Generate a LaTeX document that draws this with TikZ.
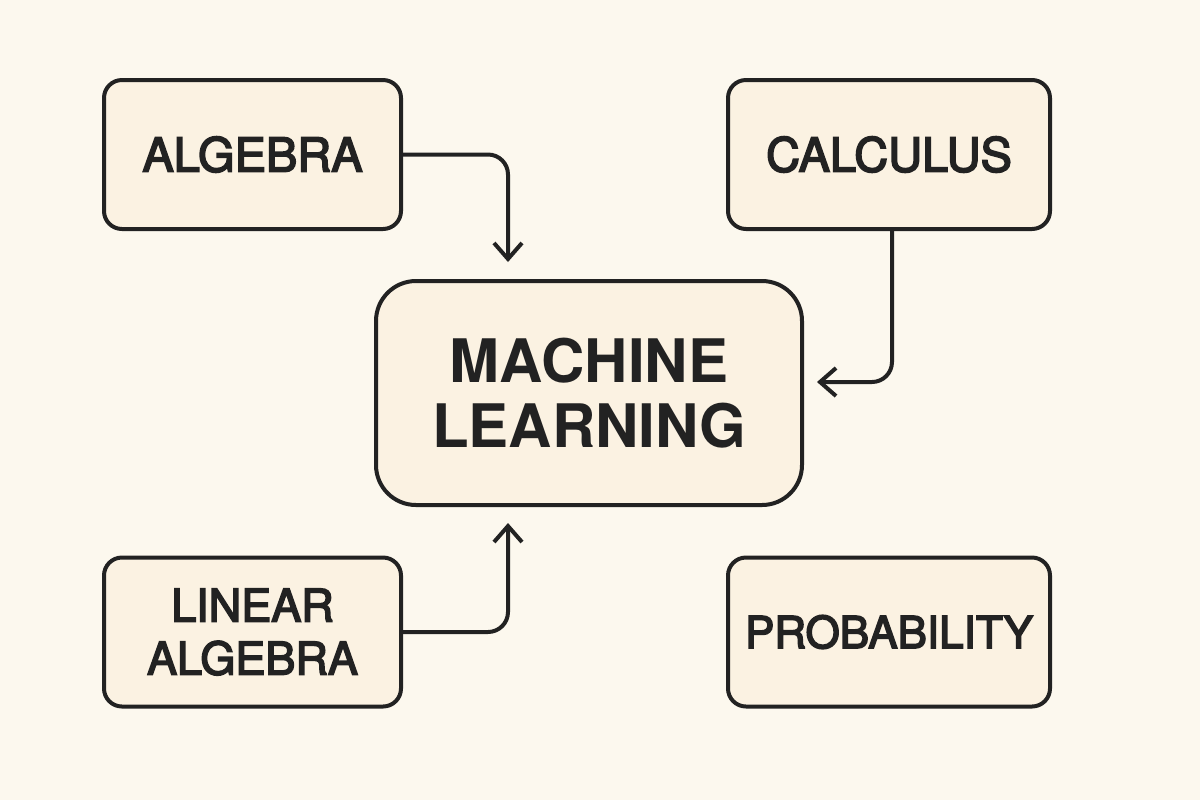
\documentclass[tikz,border=0pt]{standalone}
\usepackage{fontspec}
\setmainfont{TeX Gyre Heros}
\newfontfamily\medfont[FakeBold=3.5]{TeX Gyre Heros}
\newfontfamily\semifont[FakeBold=1]{TeX Gyre Heros Bold}
\usetikzlibrary{arrows.meta,calc}
\definecolor{bgc}{HTML}{FCF8EE}
\definecolor{boxc}{HTML}{FBF2E2}
\definecolor{inkc}{HTML}{222222}
\tikzset{
  smallbox/.style={draw=inkc, fill=boxc, line width=2pt, rounded corners=9pt,
    minimum width=148.5pt, minimum height=74.5pt, inner sep=0pt, outer sep=0pt,
    align=center, text=inkc, font=\medfont\fontsize{23.5}{26.5}\selectfont},
  bigbox/.style={draw=inkc, fill=boxc, line width=2pt, rounded corners=20pt,
    minimum width=213pt, minimum height=112pt, inner sep=0pt, outer sep=0pt,
    align=center, text=inkc, font=\fontsize{30}{32.5}\selectfont\bfseries},
  conn/.style={draw=inkc, line width=2pt, rounded corners=10pt,
    -{Straight Barb[length=8pt,width=14pt]}}
}
\begin{document}
\begin{tikzpicture}[x=0.5pt,y=-0.5pt]
\fill[bgc] (0,0) rectangle (1200,800);
\useasboundingbox (0,0) rectangle (1200,800);
\node[smallbox] (alg) at (252.5,154.5) {ALGEBRA};
\node[smallbox, minimum width=161pt] (calc) at (889,154.5) {CALCULUS};
\node[bigbox] (ml) at (589,393) {MACHINE\\LEARNING};
\node[smallbox, font=\medfont\fontsize{22.5}{26.5}\selectfont] (lin) at (252.5,632) {LINEAR\\ALGEBRA};
\node[smallbox, minimum width=161pt, font=\medfont\fontsize{22}{26.5}\selectfont] (prob) at (889,632) {PROBABILITY};
\coordinate (t1) at (508,262);
\coordinate (t2) at (817,382);
\coordinate (t3) at (508,523);
\draw[conn] (alg.east) -| (t1);
\draw[conn] ($(calc.south)+(3,0)$) |- (t2);
\draw[conn] (lin.east) -| (t3);
\end{tikzpicture}
\end{document}
